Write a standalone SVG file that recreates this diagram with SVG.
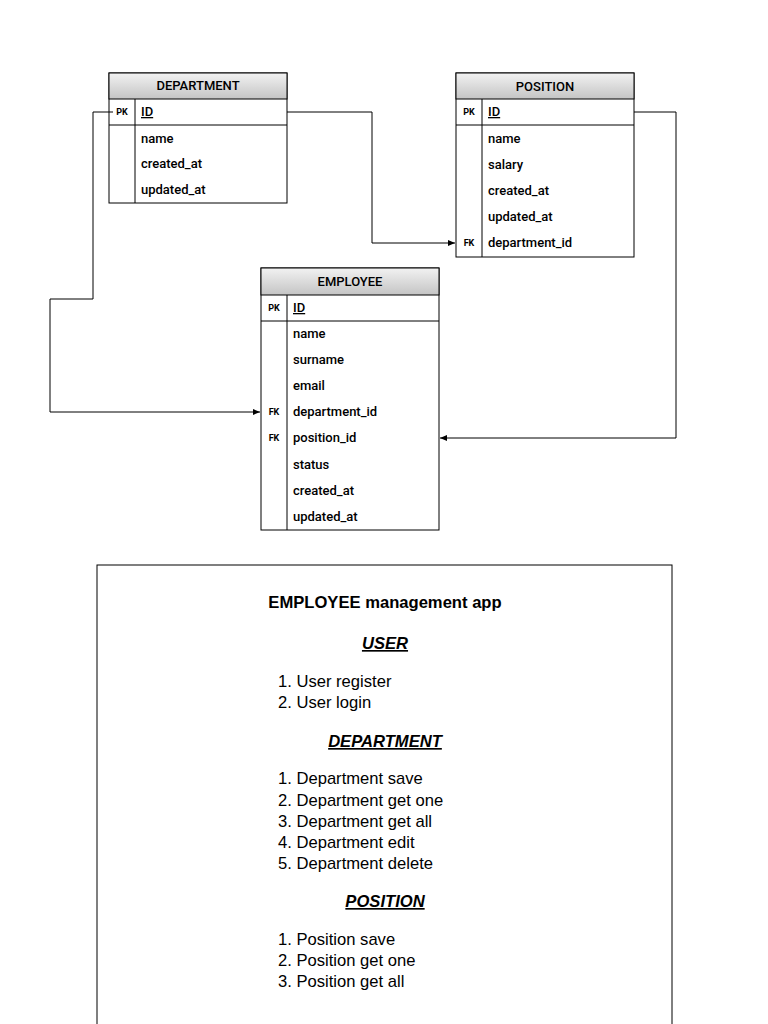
<svg xmlns="http://www.w3.org/2000/svg" width="768" height="1024" viewBox="0 0 768 1024">
<defs>
<linearGradient id="hg" x1="0" y1="0" x2="0" y2="1"><stop offset="0" stop-color="#f2f2f2"/><stop offset="1" stop-color="#c4c4c4"/></linearGradient>
<marker id="ar" markerWidth="8" markerHeight="8" refX="7" refY="4" orient="auto" markerUnits="userSpaceOnUse"><path d="M0,1 L7,4 L0,7 Z" fill="#000"/></marker>
</defs>
<style>
.b{fill:#fff;stroke:#000;stroke-width:1}
.h{fill:url(#hg);stroke:#000;stroke-width:1}
.l{stroke:#000;stroke-width:1;fill:none}
text{font-family:"Roboto","Liberation Sans",sans-serif;fill:#000}
.t{font-size:13px;font-weight:500;text-anchor:middle}
.f{font-size:13px;font-weight:500}
.k{font-size:9px;font-weight:700;text-anchor:middle}
.u{text-decoration:underline}
.n{font-family:"Liberation Sans",Arial,sans-serif;font-size:16.6px}
</style>
<rect width="768" height="1024" fill="#fff"/>
<g id="department">
<rect class="b" x="109" y="73" width="178" height="130"/>
<rect class="h" x="109" y="73" width="178" height="26"/>
<line class="l" x1="109" y1="125" x2="287" y2="125"/>
<line class="l" x1="135" y1="99" x2="135" y2="203"/>
<text class="t" x="198" y="90">DEPARTMENT</text>
<text class="k" x="122" y="115">PK</text>
<text class="f u" x="141" y="116">ID</text>
<text class="f" x="141" y="143">name</text>
<text class="f" x="141" y="168">created_at</text>
<text class="f" x="141" y="194">updated_at</text>
</g>
<g id="position">
<rect class="b" x="456" y="73" width="178" height="184"/>
<rect class="h" x="456" y="73" width="178" height="26"/>
<line class="l" x1="456" y1="125" x2="634" y2="125"/>
<line class="l" x1="482" y1="99" x2="482" y2="257"/>
<text class="t" x="545" y="91">POSITION</text>
<text class="k" x="469" y="115">PK</text>
<text class="f u" x="488" y="116">ID</text>
<text class="f" x="488" y="143">name</text>
<text class="f" x="488" y="169">salary</text>
<text class="f" x="488" y="195">created_at</text>
<text class="f" x="488" y="221">updated_at</text>
<text class="k" x="469" y="246">FK</text>
<text class="f" x="488" y="247">department_id</text>
</g>
<g id="employee">
<rect class="b" x="261" y="268" width="178" height="262"/>
<rect class="h" x="261" y="268" width="178" height="27"/>
<line class="l" x1="261" y1="321" x2="439" y2="321"/>
<line class="l" x1="287" y1="295" x2="287" y2="530"/>
<text class="t" x="350" y="286">EMPLOYEE</text>
<text class="k" x="274" y="311">PK</text>
<text class="f u" x="293" y="312">ID</text>
<text class="f" x="293" y="338">name</text>
<text class="f" x="293" y="364">surname</text>
<text class="f" x="293" y="390">email</text>
<text class="k" x="274" y="415">FK</text>
<text class="f" x="293" y="416">department_id</text>
<text class="k" x="274" y="441">FK</text>
<text class="f" x="293" y="442">position_id</text>
<text class="f" x="293" y="469">status</text>
<text class="f" x="293" y="495">created_at</text>
<text class="f" x="293" y="521">updated_at</text>
</g>
<g id="connectors">
<path class="l" d="M287,112 H372 V243 H455" marker-end="url(#ar)"/>
<path class="l" d="M113,112 H93 V299 H50 V412 H260" marker-end="url(#ar)"/>
<path class="l" d="M634,112 H676 V438 H440" marker-end="url(#ar)"/>
</g>
<g id="notes">
<rect x="97" y="565" width="575" height="470" fill="#fff" stroke="#000"/>
<text class="n" x="385" y="608" text-anchor="middle" font-weight="bold">EMPLOYEE management app</text>
<text class="n" x="385" y="649" text-anchor="middle" font-weight="bold" font-style="italic" text-decoration="underline">USER</text>
<text class="n" x="278" y="687">1. User register</text>
<text class="n" x="278" y="708">2. User login</text>
<text class="n" x="385" y="747" text-anchor="middle" font-weight="bold" font-style="italic" text-decoration="underline">DEPARTMENT</text>
<text class="n" x="278" y="784">1. Department save</text>
<text class="n" x="278" y="806">2. Department get one</text>
<text class="n" x="278" y="827">3. Department get all</text>
<text class="n" x="278" y="848">4. Department edit</text>
<text class="n" x="278" y="869">5. Department delete</text>
<text class="n" x="385" y="907" text-anchor="middle" font-weight="bold" font-style="italic" text-decoration="underline">POSITION</text>
<text class="n" x="278" y="945">1. Position save</text>
<text class="n" x="278" y="966">2. Position get one</text>
<text class="n" x="278" y="987">3. Position get all</text>
</g>
</svg>
